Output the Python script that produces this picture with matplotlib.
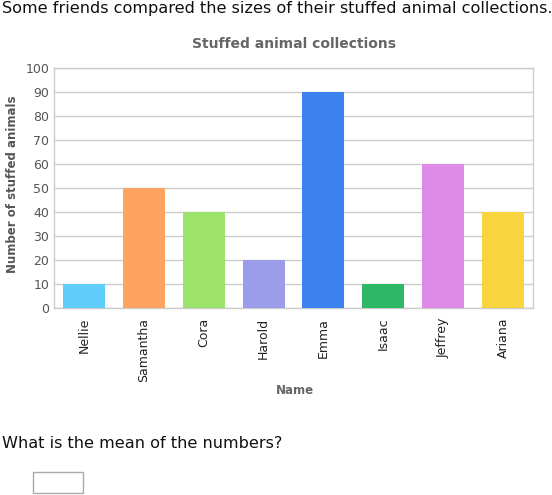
import matplotlib
matplotlib.use("Agg")
import matplotlib.pyplot as plt

names = ["Nellie", "Samantha", "Cora", "Harold", "Emma", "Isaac", "Jeffrey", "Ariana"]
values = [10, 50, 40, 20, 90, 10, 60, 40]
colors = ["#5fcdfa", "#ffa460", "#9ce26b", "#9b9cea", "#3b82ee", "#2db766", "#de8be8", "#f8d43f"]
yticks = list(range(0, 101, 10))

plt.rcParams['font.family'] = ['DejaVu Sans']
W, H = 552, 495
fig = plt.figure(figsize=(W / 100, H / 100), dpi=100)

def fx(px):
    return px / W

def fy(py):
    return 1 - py / H

ax = fig.add_axes([fx(54), fy(308), fx(533) - fx(54), fy(68) - fy(308)])
x = list(range(len(names)))
ax.bar(x, values, width=0.7, color=colors, zorder=3)
ax.set_xlim(-0.5, len(names) - 0.5)
ax.set_ylim(0, 100)
ax.set_yticks(yticks)
ax.set_yticklabels([str(v) for v in yticks], fontsize=9, color="#555555")
ax.set_xticks(x)
ax.set_xticklabels(names, rotation=90, fontsize=9, color="#222222")
ax.tick_params(axis="y", length=0, pad=3.5)
ax.tick_params(axis="x", length=0, pad=7)
ax.grid(axis="y", color="#cccccc", linewidth=1, zorder=0)
for s in ax.spines.values():
    s.set_color("#cccccc")
    s.set_linewidth(1)

ax.set_title("Stuffed animal collections", fontsize=10, fontweight="bold", color="#666666", pad=14.5)
fig.text(fx(13), fy(184), "Number of stuffed animals", rotation=90, fontsize=8.5,
         fontweight="bold", color="#555555", ha="center", va="center")
fig.text(fx(295), fy(390), "Name", fontsize=8.5, fontweight="bold", color="#666666",
         ha="center", va="center")

fig.text(fx(2), fy(9), "Some friends compared the sizes of their stuffed animal collections.",
         fontsize=11.6, color="#111111", ha="left", va="center")
fig.text(fx(2), fy(443), "What is the mean of the numbers?", fontsize=11.6, color="#111111",
         ha="left", va="center")

box = plt.Rectangle((fx(33), fy(493)), fx(83) - fx(33), fy(472) - fy(493),
                    transform=fig.transFigure, fill=False, edgecolor="#aaaaaa", linewidth=1)
fig.patches.append(box)

fig.savefig("out.png", dpi=100)
